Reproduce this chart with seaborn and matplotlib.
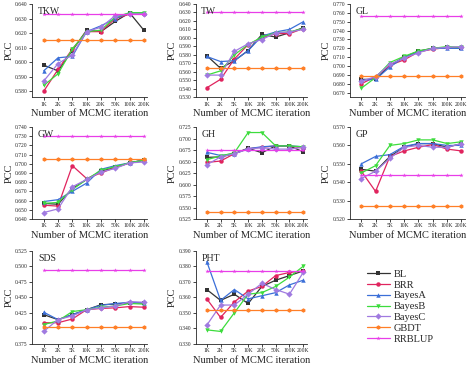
import numpy as np
import pandas as pd
import matplotlib
matplotlib.use("Agg")
import matplotlib.pyplot as plt
import seaborn as sns
from matplotlib.ticker import FormatStrFormatter, MultipleLocator

sns.set_theme(style="ticks")
plt.rcParams['font.family'] = ['Liberation Serif', 'DejaVu Serif']

iters = ["1K", "2K", "5K", "10K", "20K", "50K", "100K", "200K"]
methods = ["BL", "BRR", "BayesA", "BayesB", "BayesC", "GBDT", "RRBLUP"]
colors = ["#333333", "#e0245e", "#3b6fd8", "#3ddc3d", "#a07ae0", "#ff7f27", "#e83ee8"]
markers = ["s", "o", "^", "v", "D", "h", "*"]

# values per trait, rows follow `methods`
tkw = [[0.598, 0.594, 0.608, 0.622, 0.621, 0.628, 0.634, 0.622],
       [0.580, 0.595, 0.609, 0.621, 0.621, 0.630, 0.633, 0.633],
       [0.594, 0.603, 0.604, 0.621, 0.625, 0.630, 0.634, 0.634],
       [0.584, 0.592, 0.609, 0.621, 0.622, 0.631, 0.634, 0.634],
       [0.587, 0.599, 0.605, 0.621, 0.624, 0.632, 0.633, 0.633],
       [0.615] * 8,
       [0.633] * 8]
tw = [[0.579, 0.564, 0.573, 0.585, 0.604, 0.601, 0.606, 0.612],
      [0.541, 0.551, 0.575, 0.592, 0.600, 0.605, 0.605, 0.611],
      [0.578, 0.572, 0.573, 0.585, 0.602, 0.607, 0.610, 0.619],
      [0.556, 0.561, 0.580, 0.592, 0.601, 0.606, 0.607, 0.611],
      [0.556, 0.556, 0.584, 0.593, 0.598, 0.606, 0.607, 0.610],
      [0.564] * 8,
      [0.630] * 8]
gl = [[0.685, 0.685, 0.701, 0.710, 0.717, 0.720, 0.721, 0.720],
      [0.680, 0.688, 0.701, 0.707, 0.716, 0.719, 0.721, 0.721],
      [0.684, 0.685, 0.699, 0.710, 0.716, 0.720, 0.720, 0.720],
      [0.675, 0.687, 0.704, 0.711, 0.717, 0.720, 0.722, 0.721],
      [0.683, 0.688, 0.702, 0.709, 0.715, 0.720, 0.721, 0.722],
      [0.689] * 8,
      [0.756] * 8]
gw = [[0.657, 0.656, 0.673, 0.683, 0.692, 0.696, 0.701, 0.704],
      [0.655, 0.654, 0.698, 0.684, 0.690, 0.696, 0.701, 0.704],
      [0.659, 0.661, 0.670, 0.679, 0.694, 0.698, 0.701, 0.704],
      [0.657, 0.658, 0.672, 0.683, 0.693, 0.697, 0.701, 0.704],
      [0.647, 0.651, 0.675, 0.683, 0.691, 0.695, 0.701, 0.702],
      [0.705] * 8,
      [0.730] * 8]
gh = [[0.659, 0.660, 0.667, 0.679, 0.669, 0.684, 0.684, 0.671],
      [0.648, 0.651, 0.667, 0.678, 0.681, 0.684, 0.684, 0.679],
      [0.670, 0.663, 0.667, 0.678, 0.682, 0.684, 0.684, 0.682],
      [0.654, 0.662, 0.669, 0.713, 0.713, 0.684, 0.684, 0.682],
      [0.643, 0.660, 0.667, 0.677, 0.680, 0.677, 0.677, 0.681],
      [0.541] * 8,
      [0.676] * 8]
gp = [[0.547, 0.546, 0.554, 0.559, 0.561, 0.561, 0.559, 0.561],
      [0.546, 0.535, 0.554, 0.557, 0.559, 0.5605, 0.558, 0.557],
      [0.550, 0.554, 0.555, 0.5595, 0.561, 0.561, 0.560, 0.560],
      [0.545, 0.549, 0.560, 0.561, 0.563, 0.563, 0.561, 0.562],
      [0.542, 0.546, 0.553, 0.559, 0.560, 0.559, 0.559, 0.561],
      [0.527] * 8,
      [0.544] * 8]
sds = [[0.422, 0.414, 0.422, 0.430, 0.438, 0.439, 0.441, 0.441],
       [0.409, 0.409, 0.415, 0.430, 0.432, 0.433, 0.435, 0.434],
       [0.426, 0.414, 0.422, 0.430, 0.437, 0.440, 0.442, 0.441],
       [0.406, 0.412, 0.427, 0.430, 0.434, 0.436, 0.440, 0.439],
       [0.395, 0.414, 0.420, 0.430, 0.433, 0.436, 0.443, 0.442],
       [0.402] * 8,
       [0.494] * 8]
pht = [[0.365, 0.358, 0.362, 0.356, 0.367, 0.371, 0.374, 0.377],
       [0.359, 0.347, 0.357, 0.364, 0.367, 0.374, 0.376, 0.377],
       [0.383, 0.358, 0.365, 0.359, 0.361, 0.363, 0.368, 0.371],
       [0.339, 0.338, 0.350, 0.362, 0.363, 0.367, 0.373, 0.380],
       [0.342, 0.355, 0.355, 0.362, 0.369, 0.365, 0.362, 0.376],
       [0.352] * 8,
       [0.377] * 8]

traits = ["TKW", "TW", "GL", "GW", "GH", "GP", "SDS", "PHT"]
trait_vals = [tkw, tw, gl, gw, gh, gp, sds, pht]
ylims = [(0.576, 0.640), (0.530, 0.640), (0.665, 0.770), (0.640, 0.740),
         (0.525, 0.725), (0.520, 0.570), (0.375, 0.525), (0.330, 0.390)]
ysteps = [0.01, 0.01, 0.01, 0.01, 0.025, 0.01, 0.025, 0.01]

fig = plt.figure(figsize=(4.74, 3.65), dpi=100)
col_l = [0.068, 0.413, 0.738]
col_w = [0.243, 0.234, 0.243]
row_b = [0.734, 0.400, 0.058]
row_h = [0.255, 0.252, 0.255]

pal = dict(zip(methods, colors))
mk = dict(zip(methods, markers))

for k in range(len(traits)):
    r, c = k // 3, k % 3
    ax = fig.add_axes([col_l[c], row_b[r], col_w[c], row_h[r]])
    rows = []
    for m, vals in zip(methods, trait_vals[k]):
        for i, v in enumerate(vals):
            rows.append({"x": i, "pcc": v, "method": m})
    df = pd.DataFrame(rows)
    sns.lineplot(data=df, x="x", y="pcc", hue="method", style="method",
                 palette=pal, markers=mk, dashes=False, linewidth=0.9,
                 markersize=3.2, markeredgewidth=0, ax=ax, legend=(k == 0))
    ax.set_xlim(-0.8, 7.25)
    ax.set_ylim(*ylims[k])
    ax.set_xticks(range(len(iters)))
    ax.set_xticklabels(iters)
    ax.yaxis.set_major_locator(MultipleLocator(ysteps[k]))
    ax.yaxis.set_major_formatter(FormatStrFormatter("%.3f"))
    ax.tick_params(labelsize=4, length=2, width=0.6, pad=1.2)
    ax.set_xlabel("Number of MCMC iteration", fontsize=7.5, labelpad=2)
    ax.set_ylabel("PCC", fontsize=7.5, labelpad=1)
    ax.text(0.05, 0.97, traits[k], transform=ax.transAxes, fontsize=7,
            va="top", ha="left")
    for s in ["left", "bottom"]:
        ax.spines[s].set_linewidth(0.6)
    sns.despine(ax=ax)
    if k == 0:
        handles, labels = ax.get_legend_handles_labels()
        ax.get_legend().remove()

fig.legend(handles, labels, loc="center", bbox_to_anchor=(0.845, 0.16),
           frameon=False, fontsize=7.5, handlelength=2.2, labelspacing=0.15,
           handletextpad=0.4)

fig.savefig("out.png", dpi=100)
